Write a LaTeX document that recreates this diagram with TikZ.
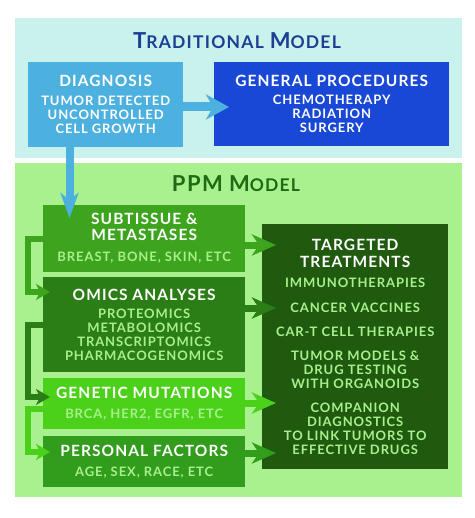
\documentclass[tikz,border=0pt]{standalone}
\usepackage{fontspec}
\setmainfont{Lato}[LetterSpace=7]
\usetikzlibrary{arrows.meta}
\definecolor{tradbg}{HTML}{C9F2EC}
\definecolor{navy}{HTML}{1C3F94}
\definecolor{diagc}{HTML}{4DB1E0}
\definecolor{genc}{HTML}{1A48D6}
\definecolor{greenbg}{HTML}{A9F18F}
\definecolor{ppmc}{HTML}{1F6A12}
\definecolor{subc}{HTML}{3DA41E}
\definecolor{omicc}{HTML}{2B7D16}
\definecolor{mutc}{HTML}{4BD11A}
\definecolor{persc}{HTML}{329C1C}
\definecolor{targc}{HTML}{1F5A0F}
\definecolor{lighttxt}{HTML}{A8F08C}
\newcommand\bigttl{\fontsize{22}{22}\selectfont}
\newcommand\smttl{\fontsize{17.5}{17.5}\selectfont}
\newcommand\hdsz{\fontsize{15.5}{14}\selectfont}
\newcommand\itsz{\fontsize{13}{14}\selectfont}
\tikzset{
  panel/.style={draw=none, inner sep=0pt, anchor=north west},
  box/.style={draw=none, inner sep=0pt, anchor=north west, align=center, text=white, font=\bfseries\itsz},
  bigarrow/.style={line width=7pt, -{Stealth[length=24pt,width=21pt,inset=7pt]}},
  harrow/.style={line width=9pt, -{Stealth[length=23pt,width=25pt,inset=7pt]}},
  varrow/.style={line width=8pt, -{Stealth[length=25pt,width=18pt,inset=7pt]}},
  linkarrow/.style={line width=6pt, line join=miter, -{Stealth[length=14pt,width=16pt,inset=4pt]}},
}
\begin{document}
\begin{tikzpicture}[x=1pt,y=-1pt]
\useasboundingbox (0,0) rectangle (474,518);
\fill[white] (0,0) rectangle (474,518);
% panels
\node[panel, fill=tradbg, minimum width=447pt, minimum height=140pt] (trad) at (15,18) {};
\node[panel, fill=greenbg, minimum width=447pt, minimum height=334pt] (ppm) at (15,163) {};
\node[text=navy, font=\bfseries, inner sep=0pt] (tradt) at (237,41)
  {{\bigttl T}{\smttl RADITIONAL}\hspace{6pt}{\bigttl M}{\smttl ODEL}};
\node[text=ppmc, font=\bfseries, inner sep=0pt] (ppmt) at (236,184)
  {{\bigttl PPM\hspace{6pt}M}{\smttl ODEL}};
% traditional boxes
\node[box, fill=diagc, minimum width=155pt, minimum height=85pt] (diag) at (28,62)
  {\hdsz DIAGNOSIS\\[5pt]TUMOR DETECTED\\UNCONTROLLED\\CELL GROWTH};
\node[box, fill=genc, minimum width=235pt, minimum height=84pt] (gen) at (214,62)
  {\hdsz GENERAL PROCEDURES\\[4pt]CHEMOTHERAPY\\RADIATION\\SURGERY};
% ppm boxes
\node[box, fill=subc, minimum width=202pt, minimum height=67pt] (sub) at (43,205)
  {\hdsz SUBTISSUE \&\\[2pt]\hdsz METASTASES\\[7pt]\color{lighttxt} BREAST, BONE, SKIN, ETC};
\node[box, fill=omicc, minimum width=202pt, minimum height=95pt] (omics) at (43,277)
  {\hdsz OMICS ANALYSES\\[4pt]\color{lighttxt} PROTEOMICS\\\color{lighttxt} METABOLOMICS\\\color{lighttxt} TRANSCRIPTOMICS\\\color{lighttxt} PHARMACOGENOMICS};
\node[box, fill=mutc, minimum width=202pt, minimum height=51pt] (mut) at (43,378)
  {\hdsz GENETIC MUTATIONS\\[6pt]\color{lighttxt} BRCA, HER2, EGFR, ETC};
\node[box, fill=persc, minimum width=202pt, minimum height=51pt] (pers) at (43,436)
  {\hdsz PERSONAL FACTORS\\[6pt]\color{lighttxt} AGE, SEX, RACE, ETC};
\node[box, fill=targc, minimum width=186pt, minimum height=245pt] (targ) at (262,224)
  {\hdsz TARGETED\\[3pt]\hdsz TREATMENTS\\[6pt]
   \color{lighttxt} IMMUNOTHERAPIES\\[11pt]
   \color{lighttxt} CANCER VACCINES\\[10pt]
   \color{lighttxt} CAR-T CELL THERAPIES\\[10pt]
   \color{lighttxt} TUMOR MODELS \&\\\color{lighttxt} DRUG TESTING\\\color{lighttxt} WITH ORGANOIDS\\[10pt]
   \color{lighttxt} COMPANION\\\color{lighttxt} DIAGNOSTICS\\\color{lighttxt} TO LINK TUMORS TO\\\color{lighttxt} EFFECTIVE DRUGS};
% traditional arrows
\coordinate (htip) at (229,107);
\coordinate (vtip) at (69.5,218);
\draw[harrow, diagc] (diag.east |- htip) -- (htip);
\draw[varrow, diagc] (diag.south -| vtip) -- (vtip);
% right arrows
\coordinate (r1) at (276,245);
\coordinate (r2) at (276,308);
\coordinate (r3) at (276,403);
\coordinate (r4) at (276,453);
\draw[bigarrow, subc] (sub.east |- r1) -- (r1);
\draw[bigarrow, omicc] (omics.east |- r2) -- (r2);
\draw[bigarrow, mutc] (mut.east |- r3) -- (r3);
\draw[bigarrow, persc] (pers.east |- r4) -- (r4);
% left links
\coordinate (l1) at (50,292);
\coordinate (l2) at (50,397);
\coordinate (l3) at (50,452);
\coordinate (s3) at (43,409);
\draw[linkarrow, subc] (sub.west) -| (28,292) -- (l1);
\draw[linkarrow, omicc] (omics.west) -| (28,397) -- (l2);
\draw[linkarrow, mutc] (s3) -| (28,452) -- (l3);
\end{tikzpicture}
\end{document}
